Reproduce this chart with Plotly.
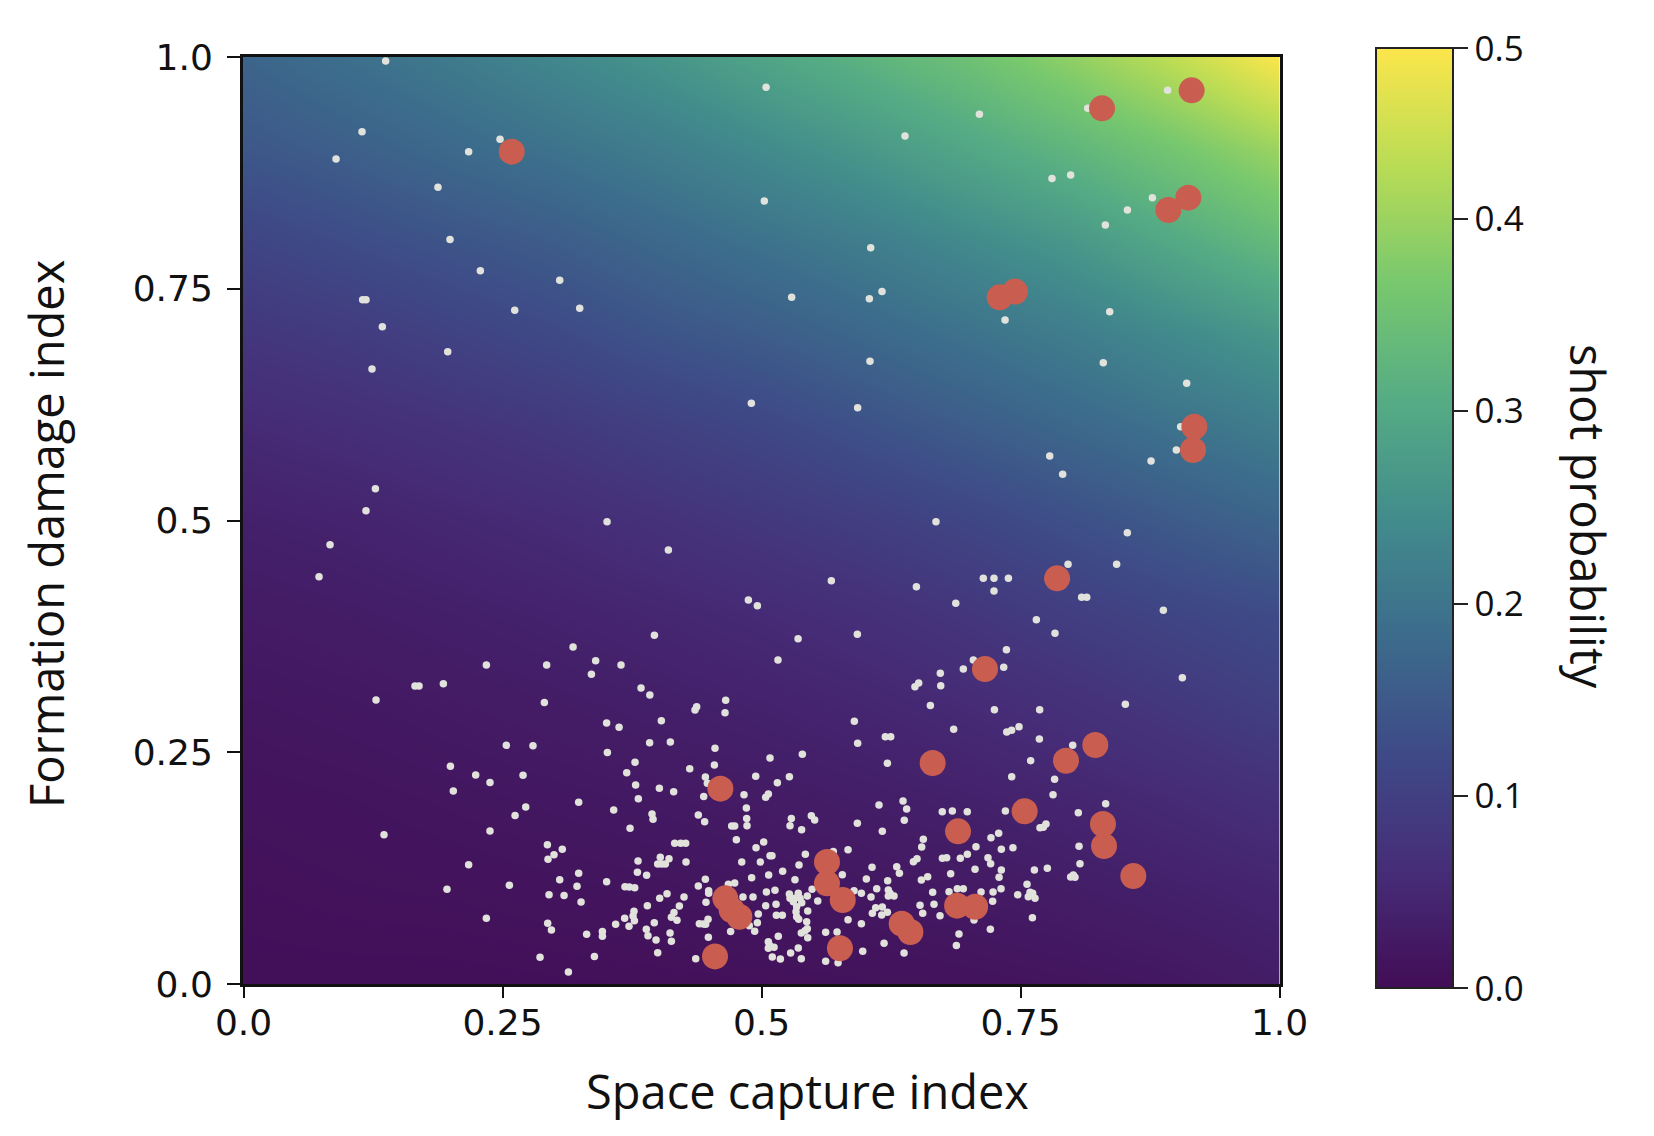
import plotly.graph_objects as go

axis_tick_vals = [0, 0.25, 0.5, 0.75, 1.0]
axis_tick_text = ["0.0", "0.25", "0.5", "0.75", "1.0"]
cbar_tick_vals = [0, 0.1, 0.2, 0.3, 0.4, 0.4886]
cbar_tick_text = ["0.0", "0.1", "0.2", "0.3", "0.4", "0.5"]

grid_x = [0, .1, .2, .3, .4, .5, .6, .7, .8, .9, 1]
grid_y = [0, .1, .2, .3, .4, .5, .6, .7, .8, .9, 1]
grid_z = [
    [.005, .005, .005, .006, .007, .008, .010, .012, .015, .020, .030],
    [.008, .010, .011, .013, .015, .018, .020, .024, .030, .037, .045],
    [.012, .014, .017, .020, .023, .027, .032, .038, .046, .056, .068],
    [.018, .021, .025, .029, .034, .040, .047, .056, .068, .083, .100],
    [.026, .030, .035, .041, .048, .056, .066, .080, .097, .112, .125],
    [.037, .042, .050, .058, .070, .083, .096, .112, .132, .152, .170],
    [.055, .063, .073, .085, .100, .115, .135, .155, .175, .195, .215],
    [.080, .090, .105, .120, .140, .155, .175, .195, .215, .240, .265],
    [.110, .125, .140, .155, .175, .195, .215, .240, .265, .300, .335],
    [.145, .160, .178, .195, .215, .240, .265, .295, .325, .360, .400],
    [.170, .190, .210, .235, .260, .290, .320, .350, .390, .435, .4886],
]

colour_stops = [
    [0.0, "rgb(66,13,86)"], [0.125, "rgb(70,45,120)"], [0.25, "rgb(62,74,135)"],
    [0.375, "rgb(60,108,140)"], [0.5, "rgb(66,140,140)"], [0.625, "rgb(85,172,132)"],
    [0.75, "rgb(120,200,110)"], [0.875, "rgb(185,220,85)"], [1.0, "rgb(252,230,75)"],
]

missed_x = [.2589, .9152, .8287, .9120, .8927, .7447, .7299, .9178, .9165, .7853, .7157, .8222, .7939, .6652, .4603,
            .7540, .6897, .8296, .8306, .8589, .5632, .5632, .5784, .4651, .4712, .4786, .4551, .5757, .6353, .6437,
            .6888, .7062]
missed_y = [.8979, .9640, .9446, .8483, .8350, .7469, .7407, .6012, .5760, .4376, .3398, .2578, .2409, .2384, .2107,
            .1863, .1647, .1726, .1489, .1165, .1316, .1086, .0906, .0924, .0798, .0726, .0298, .0385, .0651, .0561,
            .0845, .0834]

shot_x = [
    .1372, .1144, .0893, .2173, .2476, .1877, .1993, .2286, .3052, .1150, .1182, .2618, .3245, .1340, .1971,
    .5044, .7103, .6385, .8149, .8920, .5027, .7804, .7984, .8773, .8532, .8319, .6054, .6163, .6041, .5291, .8361, .7351,
    .1240, .4902, .1273, .1182, .3509, .4101, .0835, .0729, .4873, .4960, .3966, .3181,
    .6047, .8299, .9104, .5928, .9046, .9004, .8760, .7782, .7907, .6684, .8531, .7959, .8428, .7141, .7244, .7383, .7244,
    .5674, .6495, .6875, .8090, .8139, .8879, .7653, .7833, .5925, .5353, .7364,
    .2344, .2926, .3399, .3644, .3358, .1929, .1655, .1694, .1279, .2904, .3837, .3922, .4374, .4358, .4033, .3505, .3625,
    .3920, .4120, .2537, .2794, .3512, .3779, .3699, .4307, .1997, .2241, .2379, .2698, .3785, .2025, .4014, .4152, .3811,
    .3235, .2724, .3573, .2621, .3943, .3953, .4390, .3731, .2379, .1356, .4162, .4220, .4268, .2933, .3077, .2997, .2939,
    .4023, .4107, .3808, .4271, .3998, .4036, .4072, .2173, .3802, .3235, .3891, .3052, .3505, .2566, .3219, .4390, .3682,
    .3724, .3776, .1964, .2949, .3094, .4088, .4017, .4252, .3258, .3898, .4207, .3769, .4155, .3760, .4130, .3679, .2344,
    .3773, .4184, .2936, .3965, .3592, .4400, .3721, .3888, .2972, .3464, .3312, .3464, .4117, .3904, .3982, .4130, .3998,
    .2862, .3387, .4365, .3136,
    .5159, .7045, .6948, .7338, .6726, .6517, .6481, .6730, .9062, .8512, .6630, .7248, .7685, .5896, .6855, .7486, .7414,
    .7367, .6195, .6247, .7682, .5928, .8004, .6215, .7598, .7415, .7829, .7814, .8322, .8058, .4551, .4545, .4654, .4648,
    .5394, .5082, .4944, .5269, .5153, .4458, .4477, .4831, .4442, .5066, .5040, .4854, .6134, .6366, .6401, .6378, .6745,
    .6842, .6986, .7354, .5288, .4857, .4451, .5481, .5513, .5275, .4860, .4741, .4712, .5387, .5925, .6166, .7746, .7720,
    .7688, .7289, .7215, .6562, .6546, .4757, .5021, .4947, .7070, .7315, .7427, .8065, .5835, .5693, .5423, .5101, .5082,
    .6987, .6787, .6746, .6919, .7186, .7212, .6501, .6466, .4809, .4989, .5362, .6067, .6305, .6331, .7759, .7634, .8074,
    .7315, .7061, .6826, .5204, .5069, .5780, .7293, .6604, .6543, .8010, .7984, .8026, .4905, .5323, .6012, .6218, .4458,
    .4741, .4680, .7563, .6112, .7312, .6890, .6948, .5488, .5130, .5047, .4490, .4490, .5893, .5964, .6224, .6240, .6224,
    .6279, .6652, .6810, .7119, .7235, .7473, .7592, .7617, .7575, .7640, .6057, .4821, .4918, .5442, .5269, .5355, .5323,
    .5372, .5307, .5388, .5339, .5275, .5543, .7231, .5140, .5040, .4464, .6665, .6530, .6102, .6166, .6070, .6160, .6215,
    .6556, .5446, .5333, .4969, .5143, .5201, .6723, .5339, .5359, .7615, .7051, .5835, .4484, .5436, .4960, .5964, .4439,
    .4461, .4882, .5442, .5420, .5384, .4702, .4934, .7209, .5619, .5729, .6906, .4487, .5162, .5446, .6183, .5066, .5076,
    .5066, .5121, .6881, .5355, .5977, .5281, .6376, .5104, .5182, .5384, .5619, .5739,
]
shot_y = [
    .9957, .9194, .8900, .8979, .9112, .8594, .8030, .7695, .7591, .7382, .7382, .7267, .7289, .7091, .6821,
    .9673, .9382, .9148, .9446, .9640, .8447, .8688, .8727, .8483, .8350, .8188, .7943, .7469, .7393, .7407, .7253, .7163,
    .6634, .6264, .5343, .5106, .4987, .4682, .4739, .4394, .4142, .4081, .3761, .3635,
    .6717, .6703, .6480, .6217, .6012, .5760, .5642, .5696, .5498, .4987, .4869, .4527, .4527, .4376, .4376, .4376, .4239,
    .4351, .4286, .4106, .4171, .4171, .4031, .3930, .3783, .3772, .3725, .3607,
    .3441, .3441, .3488, .3441, .3341, .3240, .3215, .3215, .3064, .3038, .3193, .3118, .2992, .2956, .2841, .2816, .2769,
    .2603, .2611, .2575, .2571, .2496, .2391, .2280, .2323, .2348, .2255, .2175, .2251, .2147, .2082, .2111, .2075, .1999,
    .1960, .1909, .1877, .1819, .1834, .1776, .1823, .1679, .1650, .1611, .1517, .1517, .1517, .1503, .1453, .1395, .1345,
    .1366, .1352, .1327, .1316, .1295, .1295, .1295, .1287, .1205, .1194, .1172, .1125, .1104, .1064, .1054, .1057, .1050,
    .1046, .1039, .1021, .0964, .0956, .0974, .0924, .0939, .0885, .0845, .0841, .0784, .0770, .0734, .0719, .0708, .0708,
    .0683, .0687, .0654, .0662, .0644, .0651, .0622, .0590, .0583, .0565, .0536, .0514, .0550, .0521, .0475, .0460, .0338,
    .0288, .0298, .0273, .0129,
    .3495, .3495, .3398, .3416, .3351, .3247, .3207, .3218, .3305, .3017, .3003, .2959, .2959, .2834, .2747, .2776, .2736,
    .2718, .2668, .2668, .2643, .2596, .2575, .2380, .2409, .2237, .2208, .2042, .1945, .1848, .2542, .2362, .3060, .2927,
    .2478, .2438, .2240, .2237, .2172, .2233, .2165, .2042, .2024, .2049, .2014, .1899, .1931, .1974, .1888, .1766, .1859,
    .1866, .1859, .1866, .1784, .1784, .1751, .1816, .1769, .1708, .1708, .1704, .1704, .1665, .1733, .1647, .1726, .1690,
    .1686, .1625, .1579, .1561, .1478, .1557, .1532, .1471, .1481, .1453, .1471, .1485, .1449, .1428, .1399, .1384, .1384,
    .1399, .1363, .1356, .1356, .1363, .1298, .1352, .1320, .1316, .1316, .1284, .1259, .1266, .1194, .1248, .1230, .1298,
    .1230, .1237, .1190, .1215, .1176, .1179, .1151, .1158, .1122, .1176, .1154, .1151, .1147, .1125, .1133, .1115, .1129,
    .1090, .1075, .1075, .1028, .1028, .1028, .1028, .1021, .1010, .0992, .1007, .0978, .1007, .0978, .1014, .0978, .0949,
    .0949, .0989, .0996, .0992, .0992, .0964, .0989, .0978, .0942, .0924, .0939, .0939, .0939, .0949, .0971, .0978, .0924,
    .0924, .0888, .0877, .0834, .0924, .0895, .0892, .0859, .0845, .0881, .0859, .0849, .0823, .0831, .0762, .0744, .0773,
    .0762, .0787, .0780, .0755, .0741, .0741, .0737, .0726, .0698, .0716, .0690, .0694, .0698, .0672, .0662, .0651, .0647,
    .0644, .0629, .0597, .0575, .0550, .0565, .0568, .0590, .0557, .0561, .0539, .0503, .0514, .0500, .0439, .0457, .0421,
    .0385, .0396, .0414, .0388, .0352, .0334, .0334, .0291, .0270, .0273, .0245, .0230,
]

# The page body adds an 8 px margin, so the figure is 16 px smaller than the window and targets shift by 8.
W, H = 1638, 1120
OFF = 8


def fx(px):
    return (px - OFF) / W


def fy(py):
    return 1 - (py - OFF) / H


fig = go.Figure()
fig.add_trace(go.Heatmap(
    x=grid_x, y=grid_y, z=grid_z, zmin=0, zmax=cbar_tick_vals[-1], zsmooth="best",
    colorscale=colour_stops, hoverinfo="skip",
    colorbar=dict(
        x=fx(1375.7), y=fy(988.3), xanchor="left", yanchor="bottom",
        lenmode="fraction", len=940.3 / H, thicknessmode="pixels", thickness=76.6, xpad=0, ypad=0,
        outlinecolor="#222", outlinewidth=2,
        tickmode="array", tickvals=cbar_tick_vals, ticktext=cbar_tick_text,
        ticks="outside", ticklen=14, tickwidth=2, tickcolor="#222",
        tickfont=dict(family="Open Sans", size=35, color="#111"),
    ),
))
fig.add_trace(go.Scatter(x=shot_x, y=shot_y, mode="markers", showlegend=False, hoverinfo="skip",
                         marker=dict(size=7.5, color="#e2e2dc", line=dict(width=0))))
fig.add_trace(go.Scatter(x=missed_x, y=missed_y, mode="markers", showlegend=False, hoverinfo="skip",
                         marker=dict(size=26, color="#c95e50", line=dict(width=0))))

axis_common = dict(
    tickmode="array", tickvals=axis_tick_vals, ticktext=axis_tick_text, ticks="outside",
    tickwidth=2, tickcolor="#111", showline=True, linecolor="#111", linewidth=2.5, mirror=True,
    showgrid=False, zeroline=False, tickfont=dict(family="DejaVu Sans", size=36, color="#111"),
)
title_font = dict(family="Open Sans", size=47, color="#111")
fig.update_layout(
    width=W, height=H, autosize=False, paper_bgcolor="white", plot_bgcolor="white",
    margin=dict(l=0, r=0, t=0, b=0, autoexpand=False), showlegend=False,
    xaxis=dict(axis_common, domain=[fx(242.8), fx(1279.5)], range=[-0.0007, 1.0], ticklen=11, ticklabelstandoff=-6),
    yaxis=dict(axis_common, domain=[fy(984), fy(57)], range=[0, 1.0], ticklen=13, ticklabelstandoff=7),
    annotations=[
        dict(text="Space capture index", xref="paper", yref="paper", x=fx(807), y=fy(1091),
             showarrow=False, xanchor="center", yanchor="middle", font=title_font),
        dict(text="Formation damage index", xref="paper", yref="paper", x=fx(46), y=fy(534),
             textangle=-90, showarrow=False, xanchor="center", yanchor="middle", font=title_font),
        dict(text="shot probability", xref="paper", yref="paper", x=fx(1588), y=fy(516),
             textangle=90, showarrow=False, xanchor="center", yanchor="middle", font=title_font),
    ],
)
fig.write_html("out.html")
